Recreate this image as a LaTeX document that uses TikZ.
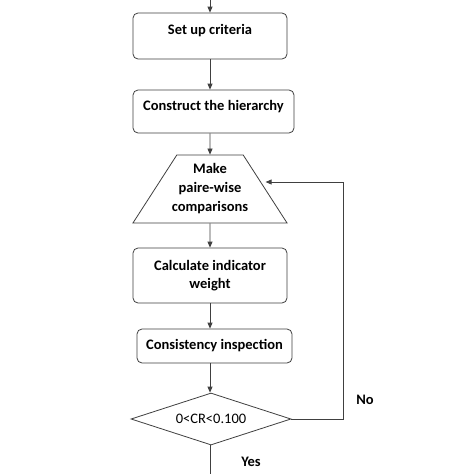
\documentclass[tikz,border=0pt]{standalone}
\usepackage{fontspec}
\setmainfont{Carlito}
\usetikzlibrary{shapes.geometric,arrows.meta,positioning}

\tikzset{
  stage/.style={draw=black!75, line width=0.8pt, rounded corners=5pt, font=\bfseries\fontsize{14.5}{18}\selectfont,
    align=center, minimum width=154pt, inner sep=3pt},
  line/.style={draw=black!75, line width=0.8pt},
  arr/.style={line, -{Triangle[length=6pt,width=5pt]}},
  lbl/.style={font=\bfseries\fontsize{14.5}{16}\selectfont}
}

\begin{document}
\begin{tikzpicture}[x=1pt,y=-1pt]
        \useasboundingbox[fill=white] (0,0) rectangle (474,474);
        \coordinate (start) at (210,0);
        \node[stage, minimum height=46pt, text height=17pt, text depth=21pt] (criteria) at (210,36) {Set up criteria};
        \node[stage, minimum width=161pt, minimum height=43pt, text height=15pt, text depth=17pt] (hier) at (213.5,111.5) {Construct the hierarchy};
        \node[trapezium, draw=black!75, line width=0.8pt, trapezium angle=49, trapezium stretches body,
              minimum width=144pt, minimum height=68pt, inner xsep=-5pt, inner ysep=0pt, align=center,
              font=\bfseries\fontsize{14.5}{19}\selectfont] (compare) at (210,189) {Make\\paire-wise\\comparisons};
        \node[stage, minimum height=55pt] (weight) at (210,275.5) {Calculate indicator\\weight};
        \node[stage, minimum width=155pt, minimum height=34pt] (inspect) at (214.5,346) {Consistency inspection};
        \node[diamond, aspect=3, draw=black!75, line width=0.8pt, minimum width=160pt, minimum height=52pt, inner sep=0pt,
              font=\fontsize{14.5}{16}\selectfont] (check) at (211,419) {0<CR<0.100};
        \coordinate (loop) at (343,182);
        \coordinate (finish) at (210,482);
        % connectors
        \draw[arr] (start) -- (criteria);
        \draw[arr] (criteria) -- (hier.north -| criteria);
        \draw[arr] (hier.south -| criteria) -- (compare);
        \draw[arr] (compare) -- (weight);
        \draw[arr] (weight) -- (inspect.north -| weight);
        \draw[arr] (inspect.south -| weight) -- (check.north -| weight);
        \draw[arr] (check.east) -| (loop) -- (loop -| compare.east);
        \draw[arr] (check.south -| weight) -- (finish);
        \node[lbl] at (365,400) {No};
        \node[lbl] at (251,462) {Yes};
    \end{tikzpicture}
\end{document}
